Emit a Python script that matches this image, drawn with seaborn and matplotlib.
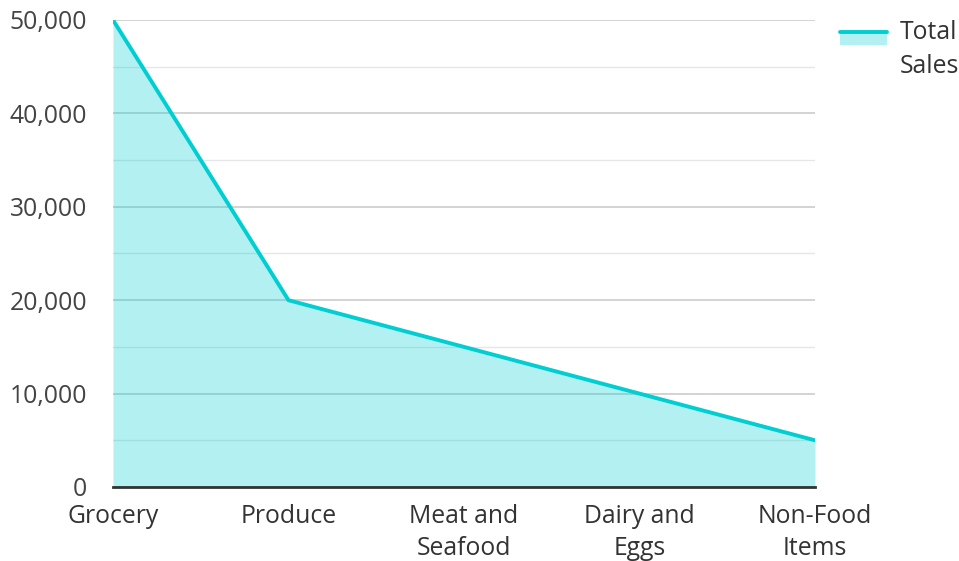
import matplotlib
matplotlib.use("Agg")
import matplotlib.pyplot as plt
from matplotlib.legend_handler import HandlerBase
from matplotlib.patches import Rectangle
from matplotlib.lines import Line2D
from matplotlib.ticker import MultipleLocator, FuncFormatter
import seaborn as sns
import pandas as pd

categories = ["Grocery", "Produce", "Meat and\nSeafood", "Dairy and\nEggs", "Non-Food\nItems"]
total_sales = [50000, 20000, 15000, 10000, 5000]
series_name = "Total\nSales"

LINE_COLOR = "#00CED1"
FS = 17.8

sns.set_theme(style="white")
plt.rcParams["font.family"] = ["Open Sans", "DejaVu Sans"]

df = pd.DataFrame({"pos": range(len(categories)), "sales": total_sales})

fig = plt.figure(figsize=(9.59, 5.61), dpi=100)
ax = fig.add_axes([113 / 959, 1 - 487 / 561, (815 - 113) / 959, (487 - 20) / 561])

ax.fill_between(df["pos"], 0, df["sales"], color=LINE_COLOR, alpha=0.3, linewidth=0, zorder=1)
sns.lineplot(data=df, x="pos", y="sales", color=LINE_COLOR, linewidth=2.8, ax=ax, zorder=3,
             legend=False)

ax.set_xlim(0, len(categories) - 1)
ax.set_ylim(0, 50000)
ax.set_xticks(range(len(categories)))
ax.set_xticklabels(categories, fontsize=FS, color="#333333", linespacing=1.4)
ax.yaxis.set_major_locator(MultipleLocator(10000))
ax.yaxis.set_minor_locator(MultipleLocator(5000))
ax.yaxis.set_major_formatter(FuncFormatter(lambda v, _: f"{int(v):,}"))
ax.tick_params(axis="y", labelsize=FS, labelcolor="#444444", length=0, pad=18.5)
ax.tick_params(axis="x", length=0, pad=12)
ax.tick_params(axis="y", which="minor", length=0)
ax.grid(True, axis="y", which="major", color="#cccccc", linewidth=1.2, zorder=0)
ax.grid(True, axis="y", which="minor", color="#e6e6e6", linewidth=1.0, zorder=0)
ax.set_axisbelow(True)
ax.set_xlabel("")
ax.set_ylabel("")
for side in ["left", "right", "top"]:
    ax.spines[side].set_visible(False)
ax.spines["bottom"].set_color("#333333")
ax.spines["bottom"].set_linewidth(2)
ax.spines["bottom"].set_zorder(4)


class AreaHandler(HandlerBase):
    def create_artists(self, legend, orig_handle, xdescent, ydescent, width, height, fontsize, trans):
        top = height * 1.3 + 3
        rect = Rectangle((-xdescent, top - 9), width, 9, facecolor=LINE_COLOR,
                         alpha=0.3, edgecolor="none", transform=trans)
        line = Line2D([-xdescent, -xdescent + width], [top, top], color=LINE_COLOR,
                      linewidth=2.8, transform=trans)
        return [rect, line]


proxy = Rectangle((0, 0), 1, 1)
leg = ax.legend([proxy], [series_name], handler_map={Rectangle: AreaHandler()},
                loc="upper left", bbox_to_anchor=(840 / 959, 1 - 20 / 561),
                bbox_transform=fig.transFigure, frameon=False, fontsize=FS,
                handlelength=1.92, handletextpad=0.48, borderaxespad=0, borderpad=0,
                labelspacing=0)
for t in leg.get_texts():
    t.set_color("#333333")
    t.set_linespacing(1.45)

fig.savefig("out.png", dpi=100)
